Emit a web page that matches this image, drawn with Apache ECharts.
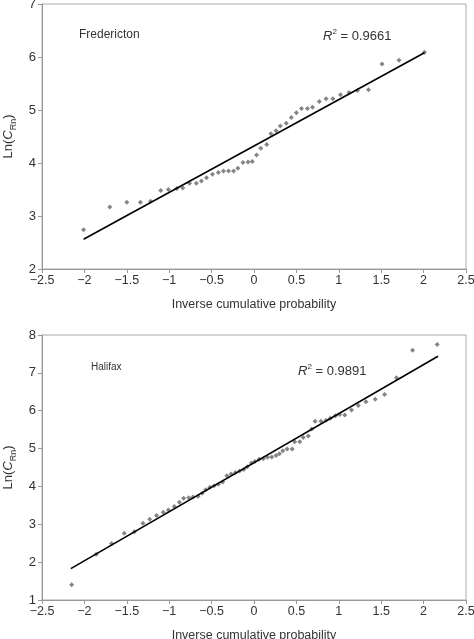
<!DOCTYPE html>
<html>
<head>
<meta charset="utf-8">
<script src="https://cdn.jsdelivr.net/npm/echarts@6/dist/echarts.min.js"></script>
<style>
  html, body { margin: 0; padding: 0; background: #fff; }
  #chart { width: 474px; height: 639px; }
</style>
</head>
<body>
<div id="chart"></div>
<script>
// Fredericton: [inverse cumulative probability, Ln(C_Rn)]
const fredericton = [
  [-2.01, 2.74], [-1.70, 3.17], [-1.50, 3.26], [-1.34, 3.26], [-1.22, 3.28],
  [-1.10, 3.48], [-1.01, 3.50], [-0.91, 3.52], [-0.84, 3.53], [-0.76, 3.62],
  [-0.68, 3.62], [-0.62, 3.66], [-0.56, 3.72], [-0.49, 3.79], [-0.42, 3.82],
  [-0.36, 3.85], [-0.30, 3.85], [-0.24, 3.85], [-0.19, 3.90], [-0.13, 4.01],
  [-0.07, 4.02], [-0.02, 4.03], [0.03, 4.15], [0.08, 4.28], [0.15, 4.35],
  [0.20, 4.55], [0.26, 4.61], [0.31, 4.70], [0.38, 4.75], [0.44, 4.86],
  [0.50, 4.95], [0.56, 5.03], [0.63, 5.03], [0.69, 5.05], [0.77, 5.16],
  [0.85, 5.21], [0.93, 5.21], [1.02, 5.29], [1.12, 5.33], [1.22, 5.37],
  [1.35, 5.38], [1.51, 5.87], [1.71, 5.94], [2.01, 6.09]
]
const frederictonTrend = [[-2.01, 2.56], [2.01, 6.08]]

// Halifax
const halifax = [
  [-2.15, 1.40], [-1.86, 2.21], [-1.68, 2.49], [-1.53, 2.76], [-1.41, 2.80],
  [-1.31, 3.03], [-1.23, 3.13], [-1.15, 3.23], [-1.07, 3.32], [-1.01, 3.38],
  [-0.94, 3.47], [-0.88, 3.58], [-0.83, 3.69], [-0.77, 3.70], [-0.72, 3.72],
  [-0.66, 3.74], [-0.61, 3.82], [-0.57, 3.91], [-0.52, 3.98], [-0.47, 4.02],
  [-0.42, 4.06], [-0.37, 4.12], [-0.32, 4.28], [-0.27, 4.33], [-0.22, 4.37],
  [-0.17, 4.41], [-0.12, 4.45], [-0.08, 4.52], [-0.03, 4.62], [0.01, 4.66],
  [0.06, 4.72], [0.11, 4.73], [0.16, 4.77], [0.21, 4.78], [0.26, 4.82],
  [0.30, 4.86], [0.34, 4.94], [0.39, 4.99], [0.45, 4.99], [0.48, 5.18],
  [0.54, 5.18], [0.58, 5.29], [0.64, 5.33], [0.68, 5.52], [0.72, 5.72],
  [0.79, 5.72], [0.85, 5.75], [0.90, 5.80], [0.96, 5.87], [1.01, 5.90],
  [1.07, 5.89], [1.15, 6.02], [1.23, 6.14], [1.32, 6.24], [1.43, 6.30],
  [1.54, 6.43], [1.68, 6.87], [1.87, 7.60], [2.16, 7.75]
]
const halifaxTrend = [[-2.16, 1.83], [2.17, 7.44]]

const panels = [
  { name: 'Fredericton', r2: '0.9661', yMin: 2, yMax: 7 },
  { name: 'Halifax', r2: '0.9891', yMin: 1, yMax: 8 }
]

const font = 'Liberation Sans, Arial, sans-serif'
const textColor = '#333'
const axisColor = '#999'

function xAxis(gridIndex) {
  return {
    type: 'value', gridIndex, min: -2.5, max: 2.5, interval: 0.5,
    name: 'Inverse cumulative probability', nameLocation: 'middle', nameGap: 29,
    nameTextStyle: { fontFamily: font, fontSize: 12.5, color: textColor },
    axisLine: { onZero: false, lineStyle: { color: axisColor } },
    axisTick: { show: true, length: 4, lineStyle: { color: axisColor } },
    axisLabel: {
      fontFamily: font, fontSize: 12.5, color: textColor, margin: 5,
      formatter: v => (v < 0 ? '\u2212' + (-v) : String(v))
    },
    splitLine: { show: false }
  }
}

function yAxis(gridIndex, min, max) {
  return {
    type: 'value', gridIndex, min, max, interval: 1,
    name: '{n|Ln(}{c|C}{s|Rn}{n|)}', nameLocation: 'middle', nameGap: 24,
    nameTextStyle: {
      fontFamily: font, fontSize: 13, color: textColor,
      rich: {
        n: { fontFamily: font, fontSize: 13, color: textColor, lineHeight: 18 },
        c: { fontFamily: font, fontSize: 13, fontStyle: 'italic', color: textColor, lineHeight: 18 },
        s: { fontFamily: font, fontSize: 9, color: textColor, lineHeight: 18, verticalAlign: 'bottom' }
      }
    },
    axisLine: { show: true, onZero: false, lineStyle: { color: axisColor } },
    axisTick: { show: true, length: 4, lineStyle: { color: axisColor } },
    axisLabel: { fontFamily: font, fontSize: 13, color: textColor, margin: 6 },
    splitLine: { show: false }
  }
}

function r2Title(value, left, top) {
  const base = { fontFamily: font, color: textColor, fontWeight: 'normal', lineHeight: 16 }
  return {
    text: '{r|R}{p|2}{t| = ' + value + '}', left, top,
    textStyle: {
      fontWeight: 'normal',
      rich: {
        r: Object.assign({}, base, { fontSize: 13, fontStyle: 'italic' }),
        p: Object.assign({}, base, { fontSize: 8, verticalAlign: 'top' }),
        t: Object.assign({}, base, { fontSize: 13 })
      }
    }
  }
}

const chart = echarts.init(document.getElementById('chart'))

chart.setOption({
  animation: false,
  backgroundColor: '#fff',
  title: [
    { text: panels[0].name, left: 74, top: 24, textStyle: { fontFamily: font, fontSize: 12, fontWeight: 'normal', color: textColor } },
    r2Title(panels[0].r2, 318, 23),
    { text: panels[1].name, left: 86, top: 357, textStyle: { fontFamily: font, fontSize: 10, fontWeight: 'normal', color: textColor } },
    r2Title(panels[1].r2, 293, 358)
  ],
  grid: [
    { left: 42, right: 8, top: 4, height: 265, outerBoundsMode: 'none', containLabel: false, show: true, borderColor: '#aaa', borderWidth: 1, backgroundColor: 'transparent' },
    { left: 42, right: 8, top: 335, height: 265, outerBoundsMode: 'none', containLabel: false, show: true, borderColor: '#aaa', borderWidth: 1, backgroundColor: 'transparent' }
  ],
  xAxis: [xAxis(0), xAxis(1)],
  yAxis: [
    yAxis(0, panels[0].yMin, panels[0].yMax),
    yAxis(1, panels[1].yMin, panels[1].yMax)
  ],
  series: [
    {
      type: 'scatter', xAxisIndex: 0, yAxisIndex: 0, data: fredericton,
      symbol: 'diamond', symbolSize: 5, itemStyle: { color: '#666' }
    },
    {
      type: 'line', xAxisIndex: 0, yAxisIndex: 0, data: frederictonTrend,
      showSymbol: false, lineStyle: { color: '#000', width: 1.6 }
    },
    {
      type: 'scatter', xAxisIndex: 1, yAxisIndex: 1, data: halifax,
      symbol: 'diamond', symbolSize: 5, itemStyle: { color: '#666' }
    },
    {
      type: 'line', xAxisIndex: 1, yAxisIndex: 1, data: halifaxTrend,
      showSymbol: false, lineStyle: { color: '#000', width: 1.6 }
    }
  ]
})
</script>
</body>
</html>
